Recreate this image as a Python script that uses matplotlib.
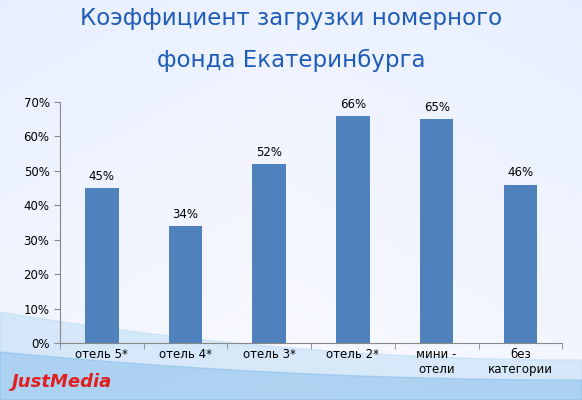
import numpy as np
import matplotlib.pyplot as plt

categories = ['отель 5*', 'отель 4*', 'отель 3*', 'отель 2*', 'мини -\nотели', 'без\nкатегории']
values = [45, 34, 52, 66, 65, 46]
yticks = [0, 10, 20, 30, 40, 50, 60, 70]

fig = plt.figure(figsize=(5.82, 4.0), dpi=100)

# фон: светлый градиент
bg = fig.add_axes([0, 0, 1, 1])
yy = np.linspace(0, 1, 200).reshape(-1, 1)
xx = np.linspace(0, 1, 300).reshape(1, -1)
base = 0.80 + 0.2 * (1 - np.abs(xx - 0.5) * 1.2) * np.ones_like(yy)
r = 0.80 + 0.18 * base - 0.05 * yy
g = 0.88 + 0.10 * base - 0.03 * yy
b = np.ones_like(r)
img = np.dstack([np.clip(r, 0, 1), np.clip(g, 0, 1), b])
bg.imshow(img, aspect='auto', extent=[0, 1, 0, 1], origin='lower')
t = np.linspace(0, 1, 200)
bg.fill_between(t, 0, 0.10 + 0.12 * (1 - t) ** 2, color='#b8daf5', alpha=0.5)
bg.fill_between(t, 0, 0.05 + 0.07 * (1 - t) ** 2, color='#7db8e8', alpha=0.45)
bg.set_xlim(0, 1)
bg.set_ylim(0, 1)
bg.axis('off')

fig.text(0.5, 0.955, 'Коэффициент загрузки номерного', ha='center', va='center',
         fontsize=16.5, color='#1f5cb8')
fig.text(0.5, 0.85, 'фонда Екатеринбурга', ha='center', va='center',
         fontsize=16.5, color='#1f5cb8')

ax = fig.add_axes([0.103, 0.1425, 0.863, 0.6025])
ax.patch.set_alpha(0)
x = np.arange(len(categories))
ax.bar(x, values, width=0.4, color='#4f81bd')
for xi, v in zip(x, values):
    ax.text(xi, v + 1.5, '%d%%' % v, ha='center', va='bottom', fontsize=8.5)
ax.set_ylim(0, 70)
ax.set_xlim(-0.5, len(categories) - 0.5)
ax.set_yticks(yticks)
ax.set_yticklabels(['%d%%' % v for v in yticks], fontsize=8.5)
ax.set_xticks(x)
ax.set_xticklabels(categories, fontsize=8.5)
ax.set_xticks(np.arange(len(categories) + 1) - 0.5, minor=True)
ax.tick_params(axis='x', which='major', length=0)
ax.tick_params(axis='x', which='minor', length=4, color='#888888')
ax.tick_params(axis='y', length=4, color='#888888')
for s in ['top', 'right']:
    ax.spines[s].set_visible(False)
ax.spines['left'].set_color('#888888')
ax.spines['bottom'].set_color('#888888')

fig.text(0.02, 0.045, 'JustMedia', fontsize=13, color='#e02020', fontweight='bold',
         style='italic', va='center')

fig.savefig('out.png', dpi=100)
